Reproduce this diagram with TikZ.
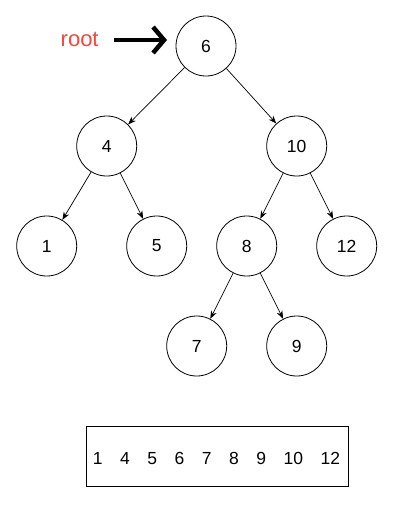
\documentclass[tikz,border=0pt]{standalone}
\usepackage{fontspec}
\setmainfont{Liberation Sans}
\usetikzlibrary{arrows.meta}
\definecolor{rootred}{RGB}{240,72,60}
\tikzset{
  treenode/.style={draw, circle, minimum size=60pt, inner sep=0pt, line width=0.8pt, font=\fontsize{17.5}{20}\selectfont},
  edge/.style={-{Stealth[length=8pt,width=6pt]}, line width=0.7pt},
  rootarrow/.style={line width=4.5pt, -{Straight Barb[length=11pt,width=26pt]}},
}
\begin{document}
\begin{tikzpicture}[x=1pt,y=-1pt]
\useasboundingbox (0,0) rectangle (418,512);
\node[treenode] (n6) at (206,46) {6};
\node[treenode] (n4) at (106.7,146) {4};
\node[treenode] (n10) at (296.7,146) {10};
\node[treenode] (n1) at (46.7,246) {1};
\node[treenode] (n5) at (156.7,246) {5};
\node[treenode] (n8) at (246.7,246) {8};
\node[treenode] (n12) at (346.7,246) {12};
\node[treenode] (n7) at (196.7,346) {7};
\node[treenode] (n9) at (296.7,346) {9};
\draw[edge] (n6) -- (n4);
\draw[edge] (n6) -- (n10);
\draw[edge] (n4) -- (n1);
\draw[edge] (n4) -- (n5);
\draw[edge] (n10) -- (n8);
\draw[edge] (n10) -- (n12);
\draw[edge] (n8) -- (n7);
\draw[edge] (n8) -- (n9);
\node[text=rootred, font=\fontsize{22}{26}\selectfont, anchor=base west, inner sep=0pt] (root) at (60.5,46) {root};
\coordinate (rootend) at (167,40);
\draw[rootarrow] (114,40) -- (rootend);
\node[draw, line width=0.8pt, minimum width=261.6pt, minimum height=60pt, inner sep=0pt] (list) at (217.5,456) {};
\node[font=\fontsize{17.5}{20}\selectfont, inner sep=0pt] (listtext) at (216.5,458) {1\hspace{17.5pt}4\hspace{17.5pt}5\hspace{17.5pt}6\hspace{17.5pt}7\hspace{17.5pt}8\hspace{17.5pt}9\hspace{17.5pt}10\hspace{17.5pt}12};
\end{tikzpicture}
\end{document}
